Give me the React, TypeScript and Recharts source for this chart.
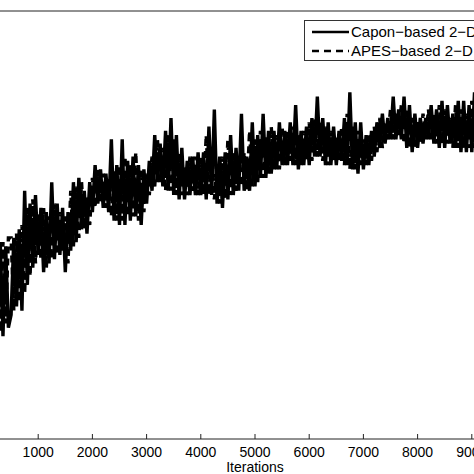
import { Legend, Line, LineChart, XAxis, YAxis } from "recharts";

// sampled every 50 iterations, y in arbitrary units (no y labels visible in the crop)
const ITER_STEP = 50;

const capon = [
  38, 21, 42, 19, 44, 22, 46, 24, 45, 26,
  29, 47, 31, 49, 30, 58, 36, 55, 40, 57,
  43, 54, 39, 53, 41, 60, 42, 55, 43, 54,
  39, 53, 44, 60, 46, 61, 49, 58, 48, 60,
  53, 64, 55, 63, 54, 62, 53, 70, 51, 64,
  50, 70, 50, 65, 51, 66, 52, 64, 50, 63,
  55, 65, 58, 71, 60, 69, 59, 72, 58, 75,
  57, 71, 56, 68, 56, 65, 57, 66, 57, 67,
  57, 67, 56, 73, 57, 77, 55, 66, 54, 67,
  56, 71, 57, 68, 58, 76, 58, 66, 58, 74,
  59, 71, 61, 76, 61, 72, 62, 72, 63, 74,
  64, 72, 64, 74, 64, 78, 63, 72, 64, 73,
  64, 75, 66, 80, 66, 75, 64, 74, 64, 73,
  64, 72, 65, 75, 64, 81, 63, 74, 62, 74,
  63, 71, 64, 72, 66, 74, 68, 76, 69, 75,
  70, 80, 70, 77, 70, 80, 68, 78, 67, 76,
  68, 75, 69, 75, 70, 78, 69, 77, 68, 79,
  68, 78, 69, 76, 68, 79, 67, 79, 67, 78,
  67, 81, 68, 78, 67, 77, 68,
];

const apes = [
  22, 40, 20, 43, 23, 45, 25, 46, 27, 47,
  47, 30, 48, 32, 50, 34, 54, 38, 56, 41,
  53, 42, 54, 40, 52, 42, 55, 43, 53, 44,
  52, 41, 58, 45, 59, 47, 60, 49, 57, 50,
  61, 54, 63, 55, 62, 54, 61, 52, 63, 51,
  64, 51, 66, 52, 64, 52, 67, 51, 63, 53,
  62, 57, 66, 59, 70, 60, 68, 58, 71, 58,
  70, 57, 67, 57, 64, 57, 66, 58, 66, 57,
  66, 57, 71, 57, 68, 56, 64, 55, 66, 56,
  70, 57, 67, 58, 65, 59, 67, 58, 72, 59,
  70, 60, 72, 61, 71, 62, 73, 63, 71, 63,
  73, 64, 72, 65, 73, 64, 71, 64, 72, 65,
  74, 65, 75, 66, 74, 65, 73, 64, 72, 65,
  71, 65, 73, 64, 76, 63, 73, 63, 72, 64,
  70, 64, 71, 65, 73, 67, 75, 68, 74, 70,
  77, 70, 76, 71, 78, 69, 77, 68, 75, 68,
  74, 69, 76, 70, 77, 70, 76, 69, 78, 69,
  77, 69, 75, 68, 78, 68, 77, 68, 76, 68,
  79, 68, 76, 67, 77, 68, 76,
];

const xTicks = [0, 1000, 2000, 3000, 4000, 5000, 6000, 7000, 8000, 9000, 10000];

const seriesNames = { capon: "Capon\u2212based 2\u2212D", apes: "APES\u2212based 2\u2212D" };

const data = capon.map((v, i) => ({ iter: i * ITER_STEP, capon: v, apes: apes[i] }));

const FONT = '"Liberation Sans", Arial, Helvetica, sans-serif';

function LegendBox() {
  const rows = [
    { name: seriesNames.capon, dash: undefined },
    { name: seriesNames.apes, dash: "7 5" },
  ];
  return (
    <div
      style={{
        width: 240,
        height: 38,
        paddingTop: 1,
        border: "1px solid #333",
        background: "#fff",
        fontFamily: FONT,
        fontSize: 15,
        color: "#000",
        boxSizing: "content-box",
      }}
    >
      {rows.map((r) => (
        <div key={r.name} style={{ display: "flex", alignItems: "center", height: 19 }}>
          <svg width={45} height={6} style={{ display: "block" }}>
            <line x1={7} x2={44} y1={3} y2={3} stroke="#000" strokeWidth={2.5} strokeDasharray={r.dash} />
          </svg>
          <span style={{ marginLeft: 1, whiteSpace: "nowrap", lineHeight: "19px" }}>{r.name}</span>
        </div>
      ))}
    </div>
  );
}

export default function App() {
  return (
    <div
      style={{
        position: "absolute",
        left: 0,
        top: 0,
        width: 474,
        height: 474,
        overflow: "hidden",
        background: "#fff",
        fontFamily: FONT,
      }}
    >
      <div style={{ position: "absolute", left: -16, top: 0 }}>
        <LineChart width={542} height={474} data={data} margin={{ top: 10, right: 0, bottom: 0, left: 0 }}>
          <XAxis
            xAxisId="top"
            orientation="top"
            dataKey="iter"
            type="number"
            domain={[0, 10000]}
            ticks={xTicks}
            interval={0}
            height={1}
            tick={false}
            tickSize={-5}
            axisLine={{ stroke: "#222" }}
            tickLine={{ stroke: "#222" }}
            allowDataOverflow
          />
          <XAxis
            dataKey="iter"
            type="number"
            domain={[0, 10000]}
            ticks={xTicks}
            interval={0}
            height={35}
            tickSize={-5}
            tickMargin={13.5}
            tick={{ fill: "#000", fontSize: 14, fontFamily: FONT }}
            axisLine={{ stroke: "#222" }}
            tickLine={{ stroke: "#222" }}
            allowDataOverflow
            label={{ value: "Iterations", position: "insideBottom", offset: 2, fill: "#000", fontSize: 14, fontFamily: FONT }}
          />
          <YAxis hide type="number" domain={[0, 100]} allowDataOverflow />
          <Legend
            layout="horizontal"
            verticalAlign="middle"
            align="center"
            content={<LegendBox />}
            wrapperStyle={{ position: "absolute", left: 320, top: 20, width: "auto", height: "auto" }}
          />
          <Line
            type="linear"
            dataKey="capon"
            name={seriesNames.capon}
            stroke="#000"
            strokeWidth={3.4}
            dot={false}
            isAnimationActive={false}
          />
          <Line
            type="linear"
            dataKey="apes"
            name={seriesNames.apes}
            stroke="#000"
            strokeWidth={3.4}
            strokeDasharray="7 5"
            dot={false}
            isAnimationActive={false}
          />
        </LineChart>
      </div>
    </div>
  );
}
